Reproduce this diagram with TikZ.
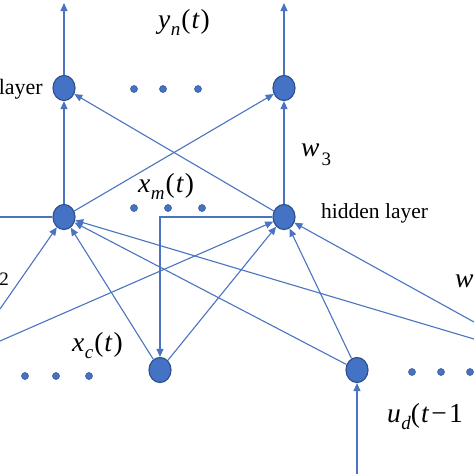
\documentclass[tikz,border=0pt]{standalone}
\usepackage{fontspec}
\setmainfont{Liberation Serif}
\usetikzlibrary{arrows.meta,shapes.geometric}
\definecolor{nodeblue}{HTML}{4472C4}
\definecolor{nodeedge}{HTML}{2F528F}
\definecolor{lineblue}{HTML}{4A74C0}
\newcommand\msize{\fontsize{27.5}{28}\selectfont}
\newcommand\ssize{\fontsize{19}{19}\selectfont}
\newcommand\mlab[3]{{\msize\itshape #1\kern0.5pt\raisebox{-7pt}{\ssize #2}\kern1pt\upshape(\kern1pt\itshape #3\kern1.5pt\upshape)}}
\begin{document}
\begin{tikzpicture}[x=1pt,y=-1pt,
  neuron/.style={ellipse, fill=nodeblue, draw=nodeedge, line width=1.2pt, minimum width=22pt, minimum height=25pt, inner sep=0pt},
  dotnode/.style={circle, fill=nodeblue, draw=nodeedge, line width=0.5pt, minimum size=7pt, inner sep=0pt},
  conn/.style={draw=lineblue, line width=1.1pt},
  arr/.style={conn, -{Triangle[length=8pt,width=7pt]}},
  lbl/.style={inner sep=0pt, anchor=base west, text=black}]
\useasboundingbox[fill=white] (0,0) rectangle (474,474);

% neurons
\node[neuron] (O1) at (64,88) {};
\node[neuron] (O2) at (284,88) {};
\node[neuron] (H1) at (64,217) {};
\node[neuron] (H2) at (284,217) {};
\node[neuron] (C) at (160,370) {};
\node[neuron] (U) at (357,370) {};

% dots
\node[dotnode] (d1) at (134,89) {};
\node[dotnode] (d2) at (163,89) {};
\node[dotnode] (d3) at (198,89) {};
\node[dotnode] (d4) at (134,208) {};
\node[dotnode] (d5) at (168,208) {};
\node[dotnode] (d6) at (202,208) {};
\node[dotnode] (d7) at (25,376) {};
\node[dotnode] (d8) at (56,376) {};
\node[dotnode] (d9) at (89,376) {};
\node[dotnode] (d10) at (412,372) {};
\node[dotnode] (d11) at (441,372) {};
\node[dotnode] (d12) at (470,372) {};

% free ends
\coordinate (t1) at (64,3);
\coordinate (t2) at (284,3);
\coordinate (l0) at (0,217);
\coordinate (lw2) at (0,309);
\coordinate (ll) at (0,341);
\coordinate (rr1) at (474,339);
\coordinate (rr2) at (474,322);
\coordinate (ub) at (357,474);

% connectors
\draw[arr] (O1) -- (t1);
\draw[arr] (O2) -- (t2);
\draw[arr] (H1) -- (O1);
\draw[arr] (H2) -- (O2);
\draw[arr] (H1) -- (O2);
\draw[arr] (H2) -- (O1);
\draw[conn] (l0) -- (H1);
\draw[arr] (H2) -| (C);
\draw[arr] (C) -- (H1);
\draw[arr] (C) -- (H2);
\draw[arr] (U) -- (H1);
\draw[arr] (U) -- (H2);
\draw[arr] (lw2) -- (H1);
\draw[arr] (ll) -- (H2);
\draw[arr] (rr1) -- (H1);
\draw[arr] (rr2) -- (H2);
\draw[arr] (ub) -- (U);

% labels
\node[lbl, anchor=base east, font=\fontsize{22}{24}\selectfont] (lay) at (43,94) {layer};
\node[lbl, font=\fontsize{21.5}{24}\selectfont] (hid) at (321,218) {hidden layer};
\node[lbl] (yn) at (158,28) {\mlab{y}{n}{t}};
\node[lbl] (xm) at (138,192) {\mlab{x}{m}{t}};
\node[lbl] (xc) at (72,351) {\mlab{x}{c}{t}};
\node[lbl] (w3) at (301,156) {{\msize\itshape w}\kern2pt\raisebox{-9pt}{\ssize 3}};
\node[lbl] (ud) at (387,422) {{\msize\itshape u}\kern0.5pt\raisebox{-7pt}{\ssize\itshape d}{\msize(\kern1pt\itshape t\upshape\kern2.5pt−\kern2.5pt1}};
\node[lbl, anchor=base east] (two) at (9,285) {\ssize 2};
\node[lbl] (w1) at (455,287) {\msize\itshape w};
\end{tikzpicture}
\end{document}
